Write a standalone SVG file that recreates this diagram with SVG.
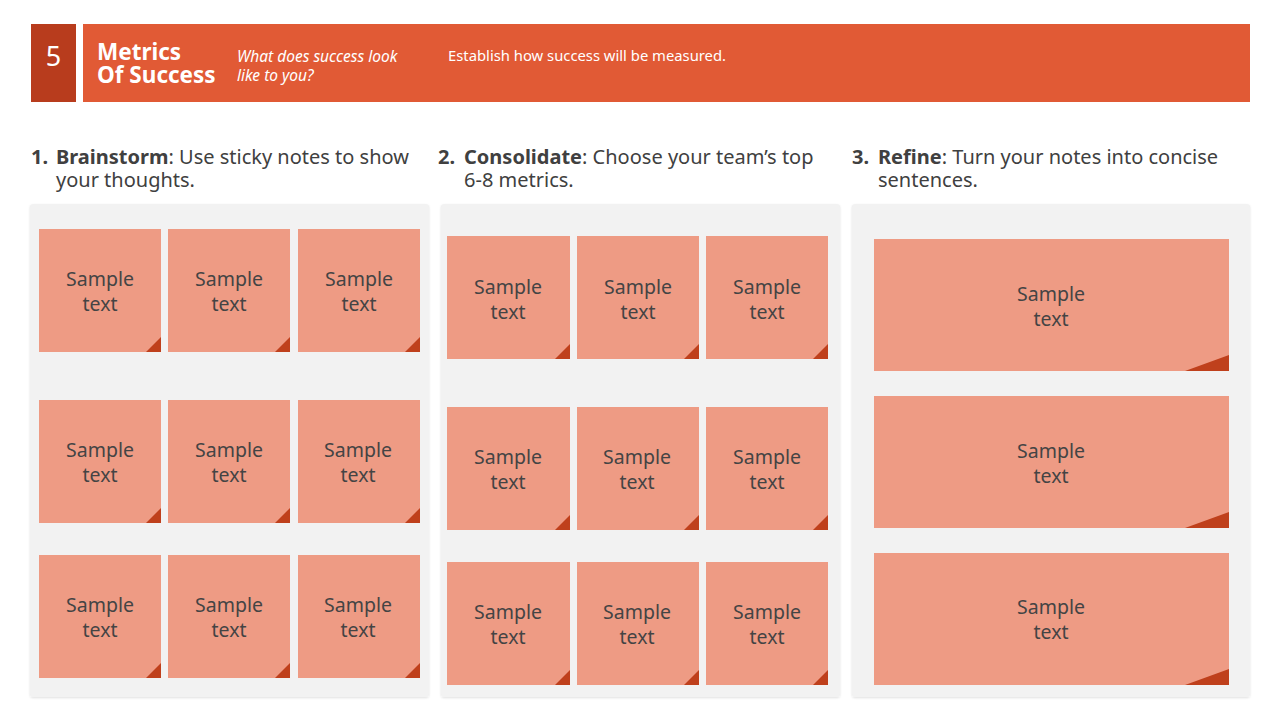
<svg xmlns="http://www.w3.org/2000/svg" width="1280" height="720" viewBox="0 0 1280 720">
<defs>
<style>
.bg{fill:#ffffff}
.hdr{fill:#E15A35}
.hdrd{fill:#B83C1D}
.panel{fill:#F2F2F2}
.note{fill:#EE9B84}
.fold{fill:#BF401C}
.nt{font-family:"Noto Sans","Open Sans",sans-serif;font-size:19.5px;fill:#444444;text-anchor:middle}
.ht{font-family:"Noto Sans","Open Sans",sans-serif;font-size:20px;fill:#404040}
.wt{font-family:"Noto Sans","Open Sans",sans-serif;fill:#ffffff}
</style>
<filter id="sh" x="-5%" y="-5%" width="110%" height="110%">
<feDropShadow dx="0" dy="1" stdDeviation="1" flood-color="#000" flood-opacity="0.12"/>
</filter>
</defs>
<rect class="bg" width="1280" height="720"/>

<g id="header">
<rect class="hdrd" x="31" y="24" width="45" height="78"/>
<rect class="hdr" x="83" y="24" width="1167" height="78"/>
<text class="wt" x="53.5" y="66" font-size="27" text-anchor="middle">5</text>
<text class="wt" x="97" y="60" font-size="22.5" font-weight="bold">Metrics</text>
<text class="wt" x="97" y="83" font-size="22.5" font-weight="bold">Of Success</text>
<text class="wt" x="237" y="62" font-size="15.5" font-style="italic">What does success look</text>
<text class="wt" x="237" y="81" font-size="15.5" font-style="italic">like to you?</text>
<text class="wt" x="448" y="61" font-size="14.8">Establish how success will be measured.</text>
</g>

<g id="headings">
<text class="ht" x="31" y="164" font-weight="bold">1.</text>
<text class="ht" x="56" y="164"><tspan font-weight="bold">Brainstorm</tspan>: Use sticky notes to show</text>
<text class="ht" x="56" y="187">your thoughts.</text>
<text class="ht" x="438" y="164" font-weight="bold">2.</text>
<text class="ht" x="464" y="164"><tspan font-weight="bold">Consolidate</tspan>: Choose your team’s top</text>
<text class="ht" x="464" y="187">6-8 metrics.</text>
<text class="ht" x="852" y="164" font-weight="bold">3.</text>
<text class="ht" x="878" y="164"><tspan font-weight="bold">Refine</tspan>: Turn your notes into concise</text>
<text class="ht" x="878" y="187">sentences.</text>
</g>

<g id="panels">
<rect class="panel" x="30" y="204" width="399" height="493" rx="3" filter="url(#sh)"/>
<rect class="panel" x="441" y="204" width="399" height="493" rx="3" filter="url(#sh)"/>
<rect class="panel" x="852" y="204" width="398" height="493" rx="3" filter="url(#sh)"/>
</g>

<g id="brainstorm">
<g id="b1"><rect class="note" x="39" y="229" width="122" height="123"/><path class="fold" d="M146 352L161 337V352Z"/><text class="nt" x="100" y="286">Sample</text><text class="nt" x="100" y="311">text</text></g>
<g id="b2"><rect class="note" x="168" y="229" width="122" height="123"/><path class="fold" d="M275 352L290 337V352Z"/><text class="nt" x="229" y="286">Sample</text><text class="nt" x="229" y="311">text</text></g>
<g id="b3"><rect class="note" x="298" y="229" width="122" height="123"/><path class="fold" d="M405 352L420 337V352Z"/><text class="nt" x="359" y="286">Sample</text><text class="nt" x="359" y="311">text</text></g>
<g id="b4"><rect class="note" x="39" y="400" width="122" height="123"/><path class="fold" d="M146 523L161 508V523Z"/><text class="nt" x="100" y="457">Sample</text><text class="nt" x="100" y="482">text</text></g>
<g id="b5"><rect class="note" x="168" y="400" width="122" height="123"/><path class="fold" d="M275 523L290 508V523Z"/><text class="nt" x="229" y="457">Sample</text><text class="nt" x="229" y="482">text</text></g>
<g id="b6"><rect class="note" x="298" y="400" width="122" height="123"/><path class="fold" d="M405 523L420 508V523Z"/><text class="nt" x="358" y="457">Sample</text><text class="nt" x="358" y="482">text</text></g>
<g id="b7"><rect class="note" x="39" y="555" width="122" height="123"/><path class="fold" d="M146 678L161 663V678Z"/><text class="nt" x="100" y="612">Sample</text><text class="nt" x="100" y="637">text</text></g>
<g id="b8"><rect class="note" x="168" y="555" width="122" height="123"/><path class="fold" d="M275 678L290 663V678Z"/><text class="nt" x="229" y="612">Sample</text><text class="nt" x="229" y="637">text</text></g>
<g id="b9"><rect class="note" x="298" y="555" width="122" height="123"/><path class="fold" d="M405 678L420 663V678Z"/><text class="nt" x="358" y="612">Sample</text><text class="nt" x="358" y="637">text</text></g>
</g>

<g id="consolidate">
<g id="c1"><rect class="note" x="447" y="236" width="123" height="123"/><path class="fold" d="M555 359L570 344V359Z"/><text class="nt" x="508" y="294">Sample</text><text class="nt" x="508" y="319">text</text></g>
<g id="c2"><rect class="note" x="577" y="236" width="122" height="123"/><path class="fold" d="M684 359L699 344V359Z"/><text class="nt" x="638" y="294">Sample</text><text class="nt" x="638" y="319">text</text></g>
<g id="c3"><rect class="note" x="706" y="236" width="122" height="123"/><path class="fold" d="M813 359L828 344V359Z"/><text class="nt" x="767" y="294">Sample</text><text class="nt" x="767" y="319">text</text></g>
<g id="c4"><rect class="note" x="447" y="407" width="123" height="123"/><path class="fold" d="M555 530L570 515V530Z"/><text class="nt" x="508" y="464">Sample</text><text class="nt" x="508" y="489">text</text></g>
<g id="c5"><rect class="note" x="577" y="407" width="122" height="123"/><path class="fold" d="M684 530L699 515V530Z"/><text class="nt" x="637" y="464">Sample</text><text class="nt" x="637" y="489">text</text></g>
<g id="c6"><rect class="note" x="706" y="407" width="122" height="123"/><path class="fold" d="M813 530L828 515V530Z"/><text class="nt" x="767" y="464">Sample</text><text class="nt" x="767" y="489">text</text></g>
<g id="c7"><rect class="note" x="447" y="562" width="123" height="123"/><path class="fold" d="M555 685L570 670V685Z"/><text class="nt" x="508" y="619">Sample</text><text class="nt" x="508" y="644">text</text></g>
<g id="c8"><rect class="note" x="577" y="562" width="122" height="123"/><path class="fold" d="M684 685L699 670V685Z"/><text class="nt" x="637" y="619">Sample</text><text class="nt" x="637" y="644">text</text></g>
<g id="c9"><rect class="note" x="706" y="562" width="122" height="123"/><path class="fold" d="M813 685L828 670V685Z"/><text class="nt" x="767" y="619">Sample</text><text class="nt" x="767" y="644">text</text></g>
</g>

<g id="refine">
<g id="r1"><rect class="note" x="874" y="239" width="355" height="132"/><path class="fold" d="M1185 371L1229 355V371Z"/><text class="nt" x="1051" y="301">Sample</text><text class="nt" x="1051" y="326">text</text></g>
<g id="r2"><rect class="note" x="874" y="396" width="355" height="132"/><path class="fold" d="M1185 528L1229 512V528Z"/><text class="nt" x="1051" y="458">Sample</text><text class="nt" x="1051" y="483">text</text></g>
<g id="r3"><rect class="note" x="874" y="553" width="355" height="132"/><path class="fold" d="M1185 685L1229 669V685Z"/><text class="nt" x="1051" y="614">Sample</text><text class="nt" x="1051" y="639">text</text></g>
</g>

<g id="connectors"></g>
</svg>
